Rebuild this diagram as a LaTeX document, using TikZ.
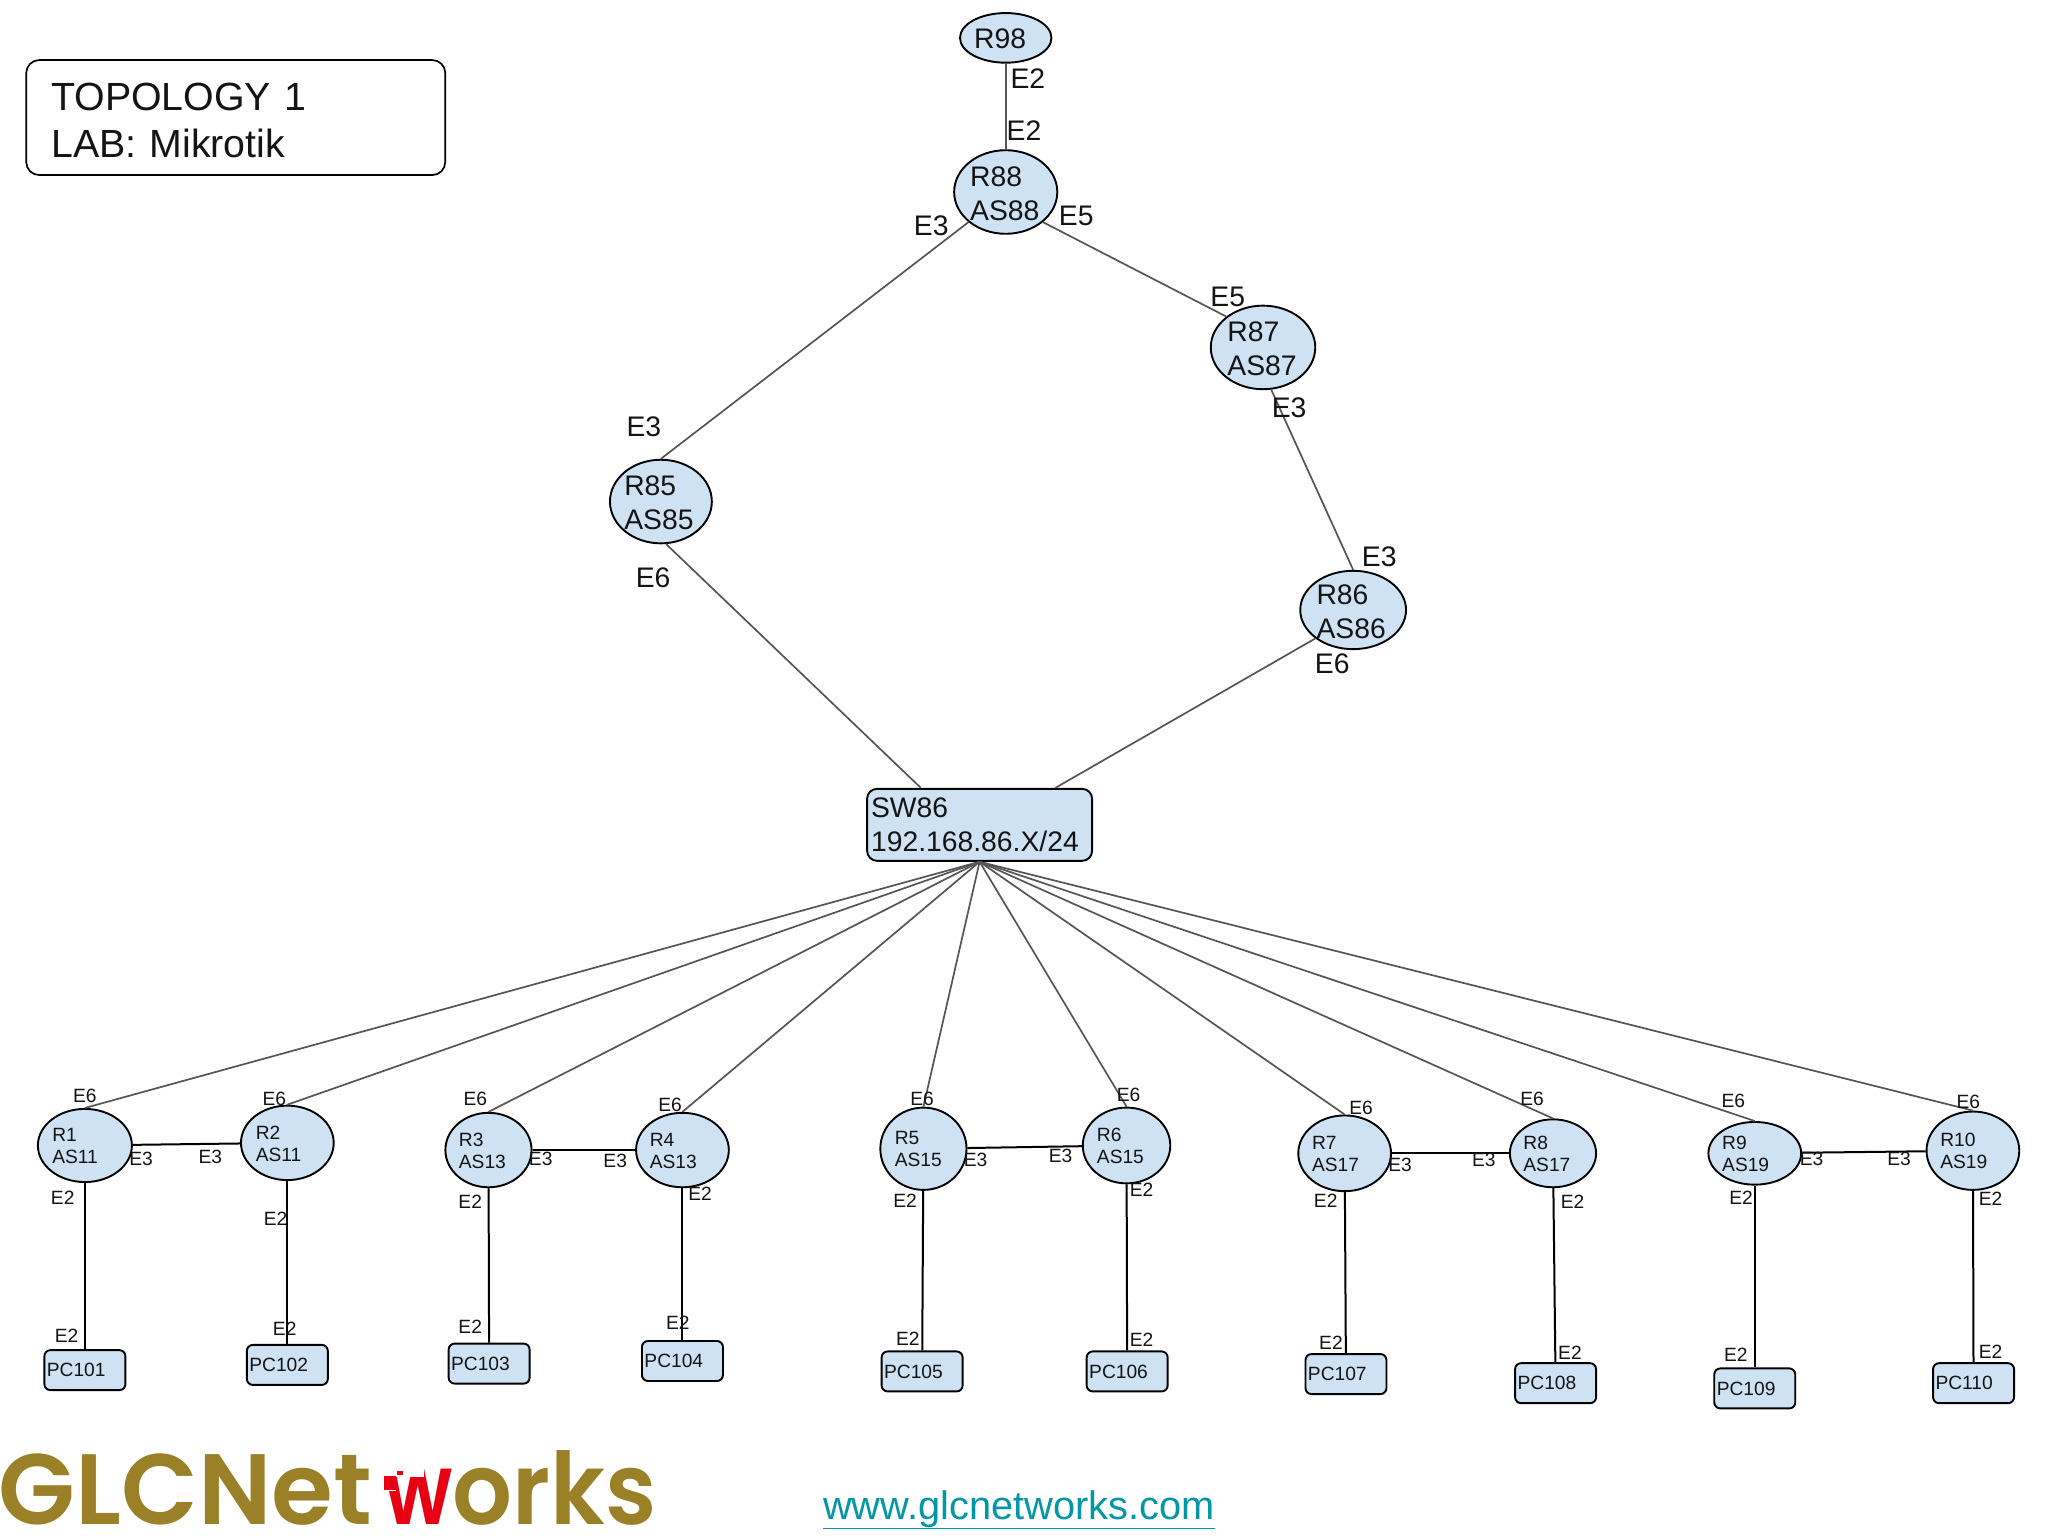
\documentclass[tikz,border=0pt]{standalone}
\usetikzlibrary{shapes.geometric}
\usepackage{graphicx}
\usepackage{fontspec}
\setmainfont{Liberation Sans}
\newfontfamily\logofont[BoldFont={Poppins SemiBold}]{Poppins}
\definecolor{nodeblue}{HTML}{CFE2F3}
\definecolor{linegray}{HTML}{555555}
\definecolor{inkc}{HTML}{141414}
\definecolor{logogold}{HTML}{9A8128}
\definecolor{logored}{HTML}{E60012}
\definecolor{urlteal}{HTML}{0097A7}
\newcommand{\rtxt}[3]{\makebox[0pt][l]{\kern#1pt\kern0.4pt\raisebox{\dimexpr-0.28em-2.6pt\relax}[0pt][0pt]{\begin{tabular}[c]{@{}l@{}}#2\\#3\end{tabular}}}}
\tikzset{
  ell/.style n args={2}{ellipse,draw=black,fill=nodeblue,line width=1.9pt,inner sep=0pt,text=inkc,minimum width=#1*1.30612pt,minimum height=#2*1.30612pt},
  bigfont/.style={font=\fontsize{28.3}{34}\selectfont},
  smallfont/.style={font=\fontsize{19.2}{22}\selectfont},
  pcbox/.style={rectangle,rounded corners=6pt,draw=black,fill=nodeblue,line width=1.9pt,inner xsep=2.5pt,inner ysep=0pt,text=inkc,text width=76pt,align=left,minimum height=40pt,smallfont},
  swbox/.style={rectangle,rounded corners=10pt,draw=black,fill=nodeblue,line width=1.9pt,inner xsep=4pt,inner ysep=0pt,text=inkc,text width=217pt,align=left,minimum height=72pt,bigfont},
  titlebox/.style={rectangle,rounded corners=13pt,draw=black,line width=1.7pt,inner xsep=25pt,inner ysep=0pt,text=inkc,text width=369pt,align=left,minimum height=115pt,font=\fontsize{39.3}{47}\selectfont},
  thin link/.style={draw=linegray,line width=1.7pt},
  dark link/.style={draw=black,line width=2pt},
  biglab/.style={inner sep=0pt,text=inkc,font=\fontsize{28.3}{28}\selectfont},
  smalllab/.style={inner sep=0pt,text=inkc,font=\fontsize{19.2}{19}\selectfont},
}
\begin{document}
\begin{tikzpicture}[x=1.30612pt,y=-1.30612pt]
\useasboundingbox (0,0) rectangle (1568,1176);
\fill[white] (0,0) rectangle (1568,1176);

\node[titlebox] (title) at (180.5,90) {\rule{0pt}{33.2pt}TOPOLOGY 1\\LAB: Mikrotik};

\node[ell={70}{38},bigfont] (R98) at (770,29) {\rtxt{-32}{R98}{}};
\node[ell={79}{64},bigfont] (R88) at (770,147) {\rtxt{-36}{R88}{AS88}};
\node[ell={80}{64},bigfont] (R87) at (967,266) {\rtxt{-36}{R87}{AS87}};
\node[ell={78}{64},bigfont] (R85) at (506,384) {\rtxt{-37}{R85}{AS85}};
\node[ell={81}{60},bigfont] (R86) at (1036,467) {\rtxt{-37}{R86}{AS86}};
\node[swbox] (SW86) at (750,631.5) {SW86\\192.168.86.X/24};

\node[ell={72}{56},smallfont] (R1) at (65,877) {\rtxt{-33}{R1}{AS11}};
\node[ell={71}{57},smallfont] (R2) at (220,875) {\rtxt{-32}{R2}{AS11}};
\node[ell={66}{57},smallfont] (R3) at (374,880.5) {\rtxt{-30}{R3}{AS13}};
\node[ell={71}{57},smallfont] (R4) at (522.5,880.5) {\rtxt{-33}{R4}{AS13}};
\node[ell={66}{63},smallfont] (R5) at (707,879.5) {\rtxt{-29}{R5}{AS15}};
\node[ell={67}{58},smallfont] (R6) at (862.5,877) {\rtxt{-30}{R6}{AS15}};
\node[ell={71}{58},smallfont] (R7) at (1029.5,883) {\rtxt{-33}{R7}{AS17}};
\node[ell={66}{52},smallfont] (R8) at (1189,883) {\rtxt{-30}{R8}{AS17}};
\node[ell={71}{48},smallfont] (R9) at (1343.5,883) {\rtxt{-33}{R9}{AS19}};
\node[ell={71}{60},smallfont] (R10) at (1510.5,881) {\rtxt{-33}{R10}{AS19}};

\foreach \n/\x/\y in {101/65/1049,102/220/1045,103/374.5/1044,104/522.5/1042,105/706/1050,106/863/1050,107/1030.5/1052,108/1191/1059,109/1343.5/1063,110/1511/1059}
  \node[pcbox] (PC\n) at (\x,\y) {PC\n};

\coordinate (swleft) at ([xshift=-58.8pt]SW86.north);
\coordinate (swright) at ([xshift=75.8pt]SW86.north);

\draw[thin link] (R98) -- (R88);
\draw[thin link] (R88.219) -- (R85.north);
\draw[thin link] (R88.-39) -- (R87.140);
\draw[thin link] (R87.-79) -- (R86.north);
\draw[thin link] (R85.-83) -- (swleft);
\draw[thin link] (R86.217) -- (swright);
\foreach \r in {1,...,10}
  \draw[thin link] (SW86.south) -- (R\r.north);
\foreach \a/\b in {1/2,3/4,5/6,7/8,9/10}
  \draw[dark link] (R\a) -- (R\b);
\foreach \r/\p in {1/101,2/102,3/103,4/104,5/105,6/106,7/107,8/108,9/109,10/110}
  \draw[dark link] (R\r) -- (PC\p);

\foreach \t/\x/\y [count=\i] in {E2/787/60,E2/784/100,E3/713/173,E5/824/165,E5/940/227,E3/493/327,E3/987/312,E6/500/442,E3/1056/426,E6/1020/508}
  \node[biglab] (big\i) at (\x,\y) {\t};

\foreach \t/\x/\y [count=\i] in {
  E6/65/839,E3/108/887,E3/161/886,E6/210/841,E2/48/917,E2/211/933,E2/51/1023,E2/218/1017,
  E6/364/841,E3/414/887,E3/471/889,E6/513/846,E2/360/920,E2/536/914,E2/360/1016,E2/519/1013,
  E6/706/841,E3/747/888,E3/812/885,E6/864/838,E2/693/919,E2/874/911,E2/695/1025,E2/874/1026,
  E6/1042/848,E3/1072/892,E3/1136/888,E6/1173/841,E2/1015/919,E2/1204/920,E2/1019/1028,E2/1202/1036,
  E6/1327/843,E3/1387/887,E3/1454/887,E6/1507/844,E2/1333/917,E2/1524/918,E2/1329/1037,E2/1524/1035}
  \node[smalllab] (small\i) at (\x,\y) {\t};

\node[anchor=base west,inner sep=0pt,text=logogold,font=\logofont\bfseries\fontsize{100}{100}\selectfont] (logo) at (-1,1167) {GLCNet\kern11pt\scalebox{.82}[1]{\color{logored}w}\scalebox{.94}[1]{orks}};
\fill[white] (291,1122) rectangle (325,1130.5);
\fill[white] (291,1130.5) rectangle (303.5,1141.5);
\fill[logored] (304,1126.2) rectangle (308.5,1129.3);
\fill[logored] (294,1130) rectangle (303.2,1140.4);
\node[anchor=base west,inner sep=0pt,text=urlteal,font=\fontsize{39.8}{40}\selectfont] (url) at (630,1163) {\underline{www.glcnetworks.com}};
\end{tikzpicture}
\end{document}
